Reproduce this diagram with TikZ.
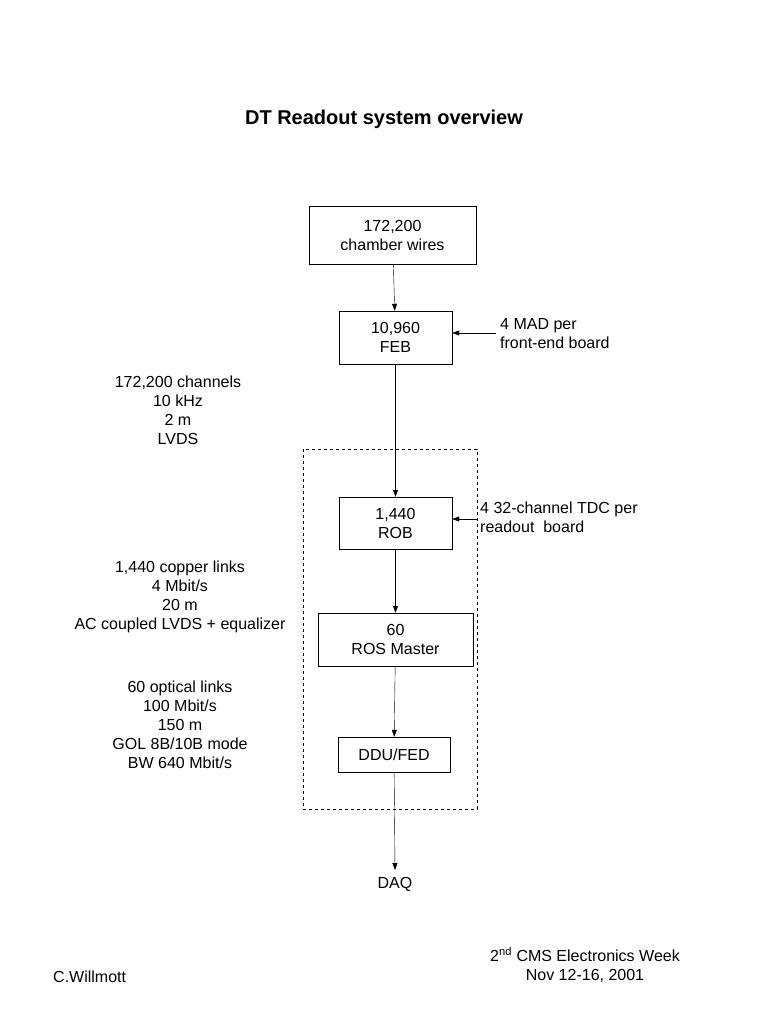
\documentclass[tikz,border=0pt]{standalone}
\usepackage{fontspec}
\setmainfont{Liberation Sans}
\usetikzlibrary{arrows.meta}
\begin{document}
\begin{tikzpicture}[x=1pt,y=-1pt,>={Triangle[length=7pt,width=5pt]},
    font=\fontsize{16}{19}\selectfont,
    main node/.style={draw,align=center,inner sep=0pt},
    note/.style={align=center,inner sep=0pt}]
    \useasboundingbox (0,0) rectangle (768,1024);
    \node[font=\fontsize{20}{24}\selectfont\bfseries] (title) at (384,119) {DT Readout system overview};

    \node[main node,minimum width=167pt,minimum height=58pt] (wires) at (392.5,235) {172,200\\chamber wires};
    \node[main node,minimum width=113pt,minimum height=53pt] (feb) at (395.5,337.5) {10,960\\FEB};
    \node[main node,minimum width=113pt,minimum height=52pt] (rob) at (395.5,523) {1,440\\ROB};
    \node[main node,minimum width=155pt,minimum height=53pt] (ros) at (395.5,639.5) {60\\ROS Master};
    \node[main node,minimum width=112pt,minimum height=35pt] (ddu) at (394,754.5) {DDU/FED};
    \node[note] (daq) at (395,884) {DAQ};
    \coordinate (daqin) at (395,870);

    \draw[dashed] (303,449) rectangle (477,809);

    \coordinate (madin) at (496,333);
    \coordinate (tdcin) at (478,519);
    \node[note,align=left,anchor=west] (mad) at (500,334) {4 MAD per\\front-end board};
    \node[note,align=left,anchor=west] (tdc) at (480,517) {4 32-channel TDC per\\readout\ \ board};

    \node[note] (lvds) at (178,410) {172,200 channels\\10 kHz\\2 m\\LVDS};
    \node[note] (copper) at (180,597) {1,440 copper links\\4 Mbit/s\\20 m\\AC coupled LVDS + equalizer};
    \node[note] (optical) at (180,725) {60 optical links\\100 Mbit/s\\150 m\\GOL 8B/10B mode\\BW 640 Mbit/s};

    \node[note,anchor=west] (author) at (53,977) {C.Willmott};
    \node[note] (week) at (585,965) {2\textsuperscript{nd} CMS Electronics Week\\Nov 12-16, 2001};

    \path[->]
        (wires) edge (feb)
        (feb) edge (rob)
        (rob) edge (ros)
        (ros) edge (ddu)
        (ddu) edge (daqin)
        (madin) edge (feb.east |- madin)
        (tdcin) edge (rob.east |- tdcin);
\end{tikzpicture}
\end{document}
